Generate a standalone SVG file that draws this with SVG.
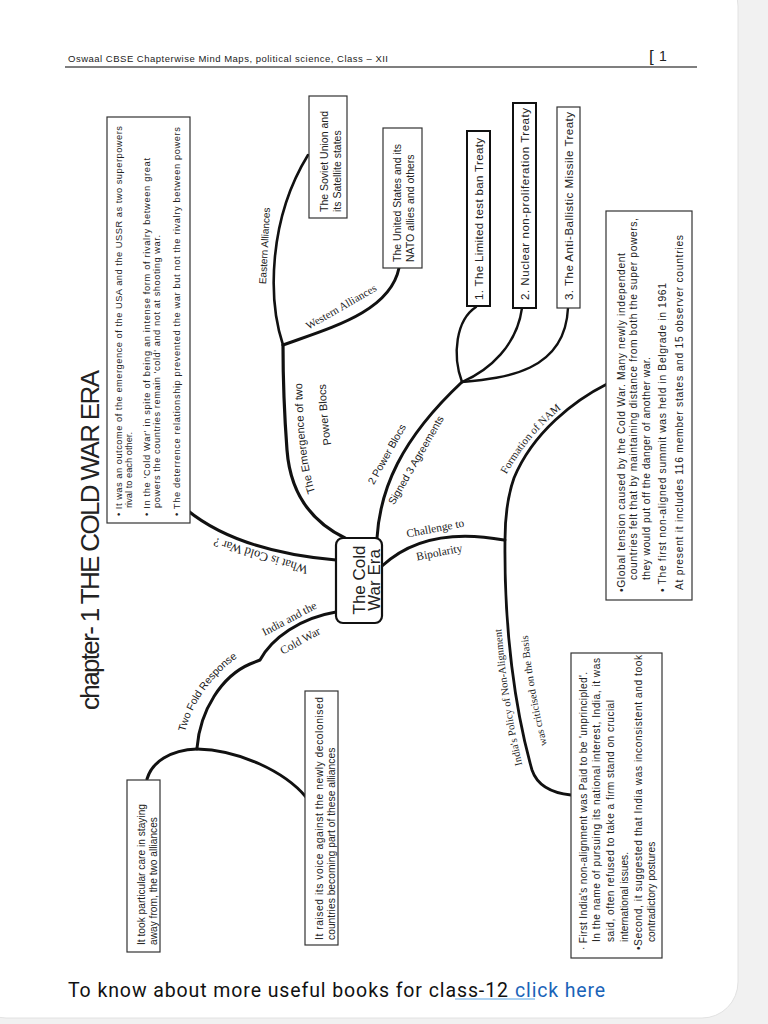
<svg xmlns="http://www.w3.org/2000/svg" width="768" height="1024" viewBox="0 0 768 1024">
<style>
.bx{fill:#fff;stroke:#333;stroke-width:1.2}
.bx2{fill:#fff;stroke:#111;stroke-width:2}
.t{font-family:"Liberation Sans",Arial,sans-serif;fill:#222}
.s{font-family:"Liberation Serif","Times New Roman",serif;fill:#222}
.c{fill:none;stroke:#111;stroke-linecap:round;stroke-linejoin:round}
</style>
<defs>
<path id="pTwo" d="M183,742 C188,708 212,672 246,652"/>
<path id="pEm1" d="M318,500 C308,475 303,440 302,375"/>
<path id="pEm2" d="M336,468 C329,440 326,410 325,360"/>
<path id="pNam" d="M501,485 C514,458 539,423 571,402"/>
<path id="pInd" d="M526,780 C509,715 498,630 499,560"/>
<path id="pCri" d="M550,756 C538,713 528,658 525,598"/>
</defs>
<rect x="0" y="0" width="768" height="1024" fill="#f1f1f1"/>
<rect x="-30" y="-30" width="768" height="1048" rx="36" fill="#fff" stroke="#e2e2e2"/>
<g id="header">
<text class="t" x="68" y="62" font-size="9.5" textLength="320">Oswaal CBSE Chapterwise Mind Maps, political science, Class – XII</text>
<line x1="65" y1="67" x2="697" y2="67" stroke="#555" stroke-width="1.3"/>
<text class="t" x="649" y="62" font-size="17">[</text>
<text class="t" x="659" y="61" font-size="14">1</text>
</g>
<g id="title"><text class="t" transform="translate(99,540) rotate(-90)" font-size="26" text-anchor="middle" textLength="340" fill="#111">chapter- 1 THE COLD WAR ERA</text></g>
<g id="connectors">
<path class="c" stroke-width="3" d="M336,560 C290,556 230,545 187,510"/>
<path class="c" stroke-width="3.2" d="M345,538 C308,520 290,490 287,450 C284,410 283,380 283,345"/>
<path class="c" stroke-width="2.6" d="M283,345 C268,300 268,220 308,155"/>
<path class="c" stroke-width="3" d="M283,345 C330,328 390,312 399,268"/>
<path class="c" stroke-width="3" d="M377,538 C380,490 400,440 462,382"/>
<path class="c" stroke-width="2.4" d="M462,382 C452,355 456,320 476,307"/>
<path class="c" stroke-width="2.4" d="M462,382 C490,370 517,345 522,308"/>
<path class="c" stroke-width="2.4" d="M462,382 C505,378 565,372 568,308"/>
<path class="c" stroke-width="3" d="M382,566 C410,540 450,530 504,540"/>
<path class="c" stroke-width="2.8" d="M607,384 C575,400 533,432 514,478 C507,498 505,520 505,540"/>
<path class="c" stroke-width="2.8" d="M505,540 C504,630 515,710 532,770 C537,785 552,793 571,795"/>
<path class="c" stroke-width="3" d="M336,612 C300,618 272,638 260,660 L250,664 C222,676 200,710 197,748"/>
<path class="c" stroke-width="3" d="M197,749 C170,750 152,762 147,779"/>
<path class="c" stroke-width="3" d="M197,749 C240,750 285,772 306,797"/>
</g>
<g id="labels">
<text class="s" transform="translate(262,552) rotate(197)" font-size="12.5" text-anchor="middle">What is Cold War ?</text>
<text class="t" font-size="11" text-anchor="middle"><textPath href="#pEm1" startOffset="50%">The Emergence of two</textPath></text>
<text class="t" font-size="11" text-anchor="middle"><textPath href="#pEm2" startOffset="50%">Power Blocs</textPath></text>
<text class="t" transform="translate(268,246) rotate(-87)" font-size="10" text-anchor="middle">Eastern Alliances</text>
<text class="s" transform="translate(343,310) rotate(-30)" font-size="11" text-anchor="middle">Western Alliances</text>
<text class="t" transform="translate(390,456) rotate(-61)" font-size="10.5" text-anchor="middle">2 Power Blocs</text>
<text class="t" transform="translate(419,462) rotate(-60)" font-size="10.5" text-anchor="middle">Signed 3 Agreements</text>
<text class="s" transform="translate(436,532) rotate(-11)" font-size="11.5" text-anchor="middle">Challenge to</text>
<text class="s" transform="translate(440,556) rotate(-11)" font-size="11.5" text-anchor="middle">Bipolarity</text>
<text class="s" font-size="11" text-anchor="middle"><textPath href="#pNam" startOffset="50%">Formation of NAM</textPath></text>
<text class="s" font-size="10.5" text-anchor="middle"><textPath href="#pInd" startOffset="38%">India's Policy of Non-Alignment</textPath></text>
<text class="s" font-size="10.5" text-anchor="middle"><textPath href="#pCri" startOffset="42%">was criticised on the Basis</textPath></text>
<text class="s" transform="translate(291,622) rotate(-28)" font-size="11.5" text-anchor="middle">India and the</text>
<text class="s" transform="translate(302,644) rotate(-29)" font-size="11.5" text-anchor="middle">Cold War</text>
<text class="t" font-size="10.5" text-anchor="middle"><textPath href="#pTwo" startOffset="50%">Two Fold Response</textPath></text>
</g>
<g id="node-center">
<rect x="336" y="538" width="46" height="85" rx="7" fill="#fff" stroke="#111" stroke-width="2.2"/>
<text class="t" transform="translate(365,580) rotate(-90)" font-size="17" text-anchor="middle" fill="#111">The Cold</text>
<text class="t" transform="translate(380,580) rotate(-90)" font-size="17" text-anchor="middle" fill="#111">War Era</text>
</g>
<g id="node-what">
<rect class="bx" x="107" y="117" width="83" height="406"/>
<g class="t" font-size="9.3">
<text transform="translate(122,516) rotate(-90)" textLength="390">• It was an outcome of the emergence of the USA  and the USSR as two superpowers</text>
<text transform="translate(132,508) rotate(-90)">rival to each other.</text>
<text transform="translate(150,516) rotate(-90)" textLength="358">• In the 'Cold War' in spite of being an intense form of rivalry between great</text>
<text transform="translate(160,508) rotate(-90)" textLength="273">powers the countries remain 'cold' and not at shooting war.</text>
<text transform="translate(180,516) rotate(-90)" textLength="389">• The deterrence relationship prevented the war but not the rivalry between powers</text>
</g>
</g>
<g id="node-soviet">
<rect class="bx" x="309" y="96" width="38" height="122"/>
<g class="t" font-size="10.5"><text transform="translate(328,212) rotate(-90)">The Soviet Union and</text><text transform="translate(341,212) rotate(-90)">its  Satellite states</text></g>
</g>
<g id="node-nato">
<rect class="bx" x="383" y="128" width="39" height="140"/>
<g class="t" font-size="10.5"><text transform="translate(401,262) rotate(-90)">The United States and its</text><text transform="translate(414,262) rotate(-90)">NATO allies and others</text></g>
</g>
<g id="node-t1"><rect class="bx2" x="467" y="131" width="23" height="175"/><text class="t" transform="translate(483,300) rotate(-90)" font-size="11.5" textLength="162">1. The Limited test ban Treaty</text></g>
<g id="node-t2"><rect class="bx2" x="513" y="103" width="23" height="205"/><text class="t" transform="translate(529,300) rotate(-90)" font-size="11.5" textLength="192">2. Nuclear non-proliferation Treaty</text></g>
<g id="node-t3"><rect class="bx" x="557" y="107" width="23" height="201"/><text class="t" transform="translate(573,300) rotate(-90)" font-size="11.5" textLength="188">3. The Anti-Ballistic Missile Treaty</text></g>
<g id="node-nam">
<rect class="bx" x="606" y="211" width="86" height="389"/>
<g class="t" font-size="10.3">
<text transform="translate(625,592) rotate(-90)" textLength="339">•Global tension caused by the Cold War. Many newly independent</text>
<text transform="translate(637,580) rotate(-90)" textLength="362">countries felt that by maintaining distance from both the super powers,</text>
<text transform="translate(650,580) rotate(-90)" textLength="223">they would put off the danger of another war.</text>
<text transform="translate(666,592) rotate(-90)" textLength="309">• The first non-aligned summit was held in Belgrade in 1961</text>
<text transform="translate(683,590) rotate(-90)" textLength="355">At present it includes 116 member states and 15 observer countries</text>
</g>
</g>
<g id="node-care"><rect class="bx" x="127" y="780" width="33" height="172"/>
<g class="t" font-size="10.2"><text transform="translate(145,945) rotate(-90)">It took particular care in staying</text><text transform="translate(157,945) rotate(-90)">away from, the two alliances</text></g></g>
<g id="node-voice"><rect class="bx" x="305" y="691" width="33" height="254"/>
<g class="t" font-size="10.3"><text transform="translate(323,940) rotate(-90)" textLength="243">It raised its voice against the newly decolonised</text><text transform="translate(335,940) rotate(-90)">countries becoming part of these alliances</text></g></g>
<g id="node-criticism"><rect class="bx" x="571" y="653" width="91" height="305"/>
<g class="t" font-size="10.2">
<text transform="translate(587,950) rotate(-90)" textLength="278">· First India's non-alignment was Paid to be 'unprincipled'.</text>
<text transform="translate(600,942) rotate(-90)" textLength="284">In the name of pursuing its national interest, India, it was</text>
<text transform="translate(614,942) rotate(-90)" textLength="242">said, often refused to take a firm stand on crucial</text>
<text transform="translate(628,942) rotate(-90)">international issues.</text>
<text transform="translate(642,950) rotate(-90)" textLength="295">•Second, it suggested that India was inconsistent and took</text>
<text transform="translate(655,942) rotate(-90)">contradictory postures</text>
</g></g>
<g id="footer">
<text x="68" y="997" font-family="Roboto,'Liberation Sans',sans-serif" font-size="19.5" fill="#111" textLength="440">To know about more useful books for class-12</text>
<text x="515" y="997" font-family="Roboto,'Liberation Sans',sans-serif" font-size="19.5" fill="#1a63b8" textLength="90">click here</text>
<line x1="455" y1="999" x2="535" y2="999" stroke="#5aa6e6" stroke-width="1.2"/>
</g>
</svg>
